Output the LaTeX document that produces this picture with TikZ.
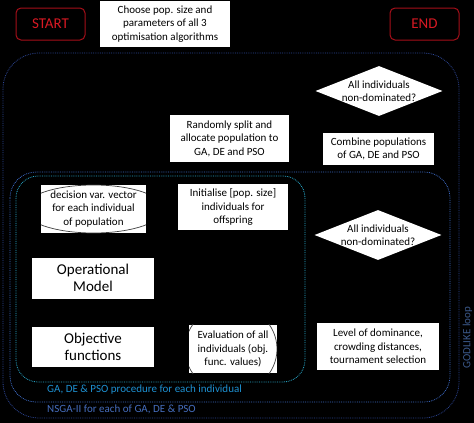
\documentclass[tikz,border=0pt]{standalone}
\usepackage{fontspec}
\setmainfont{Carlito}
\usepackage{tikz}
\usetikzlibrary{shapes.geometric}
\definecolor{term_red}{RGB}{215,25,35}
\definecolor{term_edge}{RGB}{165,15,25}
\definecolor{loop_navy}{RGB}{45,70,150}
\definecolor{loop_blue}{RGB}{60,105,195}
\definecolor{loop_teal}{RGB}{40,170,205}
\definecolor{text_navy}{RGB}{60,90,140}
\definecolor{text_blue}{RGB}{70,110,190}
\definecolor{text_teal}{RGB}{30,145,210}
\definecolor{lens_gray}{RGB}{60,60,60}

\begin{document}
\begin{tikzpicture}[x=1pt,y=-1pt]
    \tikzstyle{box}=[fill=white, draw=none, rectangle, align=center, inner sep=1pt, text=black, font=\fontsize{11}{13.5}\selectfont]
    \tikzstyle{bigbox}=[style=box, font=\fontsize{15}{17.5}\selectfont]
    \tikzstyle{term}=[draw=term_edge, line width=1pt, rounded corners=5pt, fill=none, text=term_red, minimum width=69pt, minimum height=32pt, font=\fontsize{15}{18}\selectfont]
    \tikzstyle{query}=[diamond, fill=white, draw=none, inner sep=0pt, minimum width=127pt, minimum height=50pt]
    \tikzstyle{looprect}=[densely dotted, line width=0.8pt]
    \tikzstyle{lens}=[draw=lens_gray, line width=0.7pt]
    \tikzstyle{looplabel}=[anchor=west, inner sep=0pt, font=\fontsize{11}{13}\selectfont]

    \fill[black] (0,0) rectangle (474,423);
    \useasboundingbox (0,0) rectangle (474,423);

    % nested loops
    \draw[looprect, loop_navy, rounded corners=36pt] (3,53) rectangle (459,418);
    \draw[looprect, loop_blue, rounded corners=26pt] (10,172) rectangle (450,402);
    \draw[looprect, loop_teal, rounded corners=22pt] (16,176) rectangle (305,382);

    \node[term]  (start) at (50.5,24)  {START};
    \node[term]  (end)   at (424.5,24) {END};

    \node[box, minimum width=130pt, minimum height=46pt] (choose)  at (165,24)    {Choose pop. size and\\parameters of all 3\\optimisation algorithms};
    \node[box, minimum width=119pt, minimum height=47pt] (split)   at (229.5,138.5) {Randomly split and\\allocate population to\\GA, DE and PSO};
    \node[box, minimum width=111pt, minimum height=32pt] (combine) at (378.5,149)  {Combine populations\\of GA, DE and PSO};

    \node[query] (alldom1) at (379,91) {};
    \node[box, fill=none] (alldom1txt) at (alldom1) {All individuals\\non-dominated?};

    \node[box, minimum width=105pt, minimum height=48pt] (decvec)  at (93.5,209) {decision var. vector\\for each individual\\of population};
    \node[box, minimum width=110pt, minimum height=46pt] (init)    at (233,207)   {Initialise [pop. size]\\individuals for\\offspring};

    \node[query] (alldom2) at (378,235) {};
    \node[box, fill=none] (alldom2txt) at (alldom2) {All individuals\\non-dominated?};

    \node[bigbox, minimum width=122pt, minimum height=41pt] (opmodel) at (93,278)  {Operational\\Model};
    \node[bigbox, minimum width=122pt, minimum height=40pt] (objfun)  at (93,347)  {Objective\\functions};
    \node[box, minimum width=88pt, minimum height=48pt]     (evalall) at (233,349) {Evaluation of all\\individuals (obj.\\func. values)};
    \node[box, minimum width=122pt, minimum height=47pt]    (level)   at (378,346.5) {Level of dominance,\\crowding distances,\\tournament selection};

    % lens outlines over two boxes
    \begin{scope}
        \clip (decvec.south west) rectangle (decvec.north east);
        \draw[lens] (decvec.center) ellipse [x radius=70pt, y radius=24pt];
    \end{scope}
    \begin{scope}
        \clip (evalall.south west) rectangle (evalall.north east);
        \draw[lens] (231,349) ellipse [x radius=46pt, y radius=44pt];
    \end{scope}

    \node[looplabel, text=text_teal] (gadelbl) at (47,390) {GA, DE \& PSO procedure for each individual};
    \node[looplabel, text=text_blue] (nsgalbl) at (47,409) {NSGA-II for each of GA, DE \& PSO};
    \node[rotate=90, inner sep=0pt, text=text_navy, font=\fontsize{11}{13}\selectfont] (godlikelbl) at (467.5,338) {GODLIKE loop};
\end{tikzpicture}
\end{document}
